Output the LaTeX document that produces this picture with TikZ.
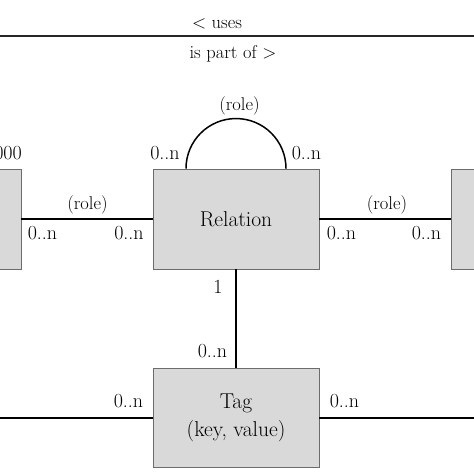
\documentclass[tikz,border=0pt]{standalone}
\begin{document}
\begin{tikzpicture}[x=1pt,y=-1pt,
  ent/.style={draw=gray!85!black,line width=0.9pt,fill=black!15,inner sep=0pt,
    font=\fontsize{21.5}{28}\selectfont,align=center},
  lbl/.style={inner sep=0pt,font=\fontsize{18.5}{22}\selectfont},
  card/.style={inner sep=0pt,font=\fontsize{20}{24}\selectfont},
  conn/.style={line width=1.5pt,black}]
\useasboundingbox (0,0) rectangle (474,474);
\clip (0,0) rectangle (474,474);
% entities
\node[ent,minimum width=166pt,minimum height=100pt] (rel) at (236,219) {Relation};
\node[ent,minimum width=120pt,minimum height=100pt] (lbox) at (-39,219) {};
\node[ent,minimum width=120pt,minimum height=100pt] (rbox) at (511,219) {};
\node[ent,minimum width=166pt,minimum height=99pt] (tag) at (236,418) {Tag\\(key, value)};
% free ends
\coordinate (tl) at (0,36);
\coordinate (tr) at (474,36);
\coordinate (tagl) at (0,418);
\coordinate (tagr) at (474,418);
% connectors
\draw[line width=2.2pt,black!85] (tl) -- (tr);
\draw[conn] (lbox.east) -- (rel.west);
\draw[conn] (rel.east) -- (rbox.west);
\draw[conn] (rel.south) -- (tag.north);
\draw[conn] (tag.west) -- (tagl);
\draw[conn] (tag.east) -- (tagr);
\draw[conn] ([xshift=-50pt]rel.north) arc[start angle=180,end angle=0,radius=50pt];
% labels
\node[lbl,anchor=base] (uses) at (217,28) {< uses};
\node[lbl,anchor=base] (part) at (233,58) {is part of >};
\node[lbl] (roletop) at (239.5,105.5) {(role)};
\node[card] (n1) at (165,153) {0..n};
\node[card] (n2) at (306.5,153) {0..n};
\node[card,anchor=east] (thou) at (22,153) {000};
\node[lbl] (rolel) at (87.5,204.5) {(role)};
\node[lbl] (roler) at (387,204.5) {(role)};
\node[card] (n3) at (42.5,233) {0..n};
\node[card] (n4) at (129,233) {0..n};
\node[card] (n5) at (341.5,233) {0..n};
\node[card] (n6) at (426.5,233) {0..n};
\node[card] (one) at (218,286.5) {1};
\node[card] (n7) at (212.5,351) {0..n};
\node[card] (n8) at (128.5,401) {0..n};
\node[card] (n9) at (344.5,401) {0..n};
\end{tikzpicture}
\end{document}
